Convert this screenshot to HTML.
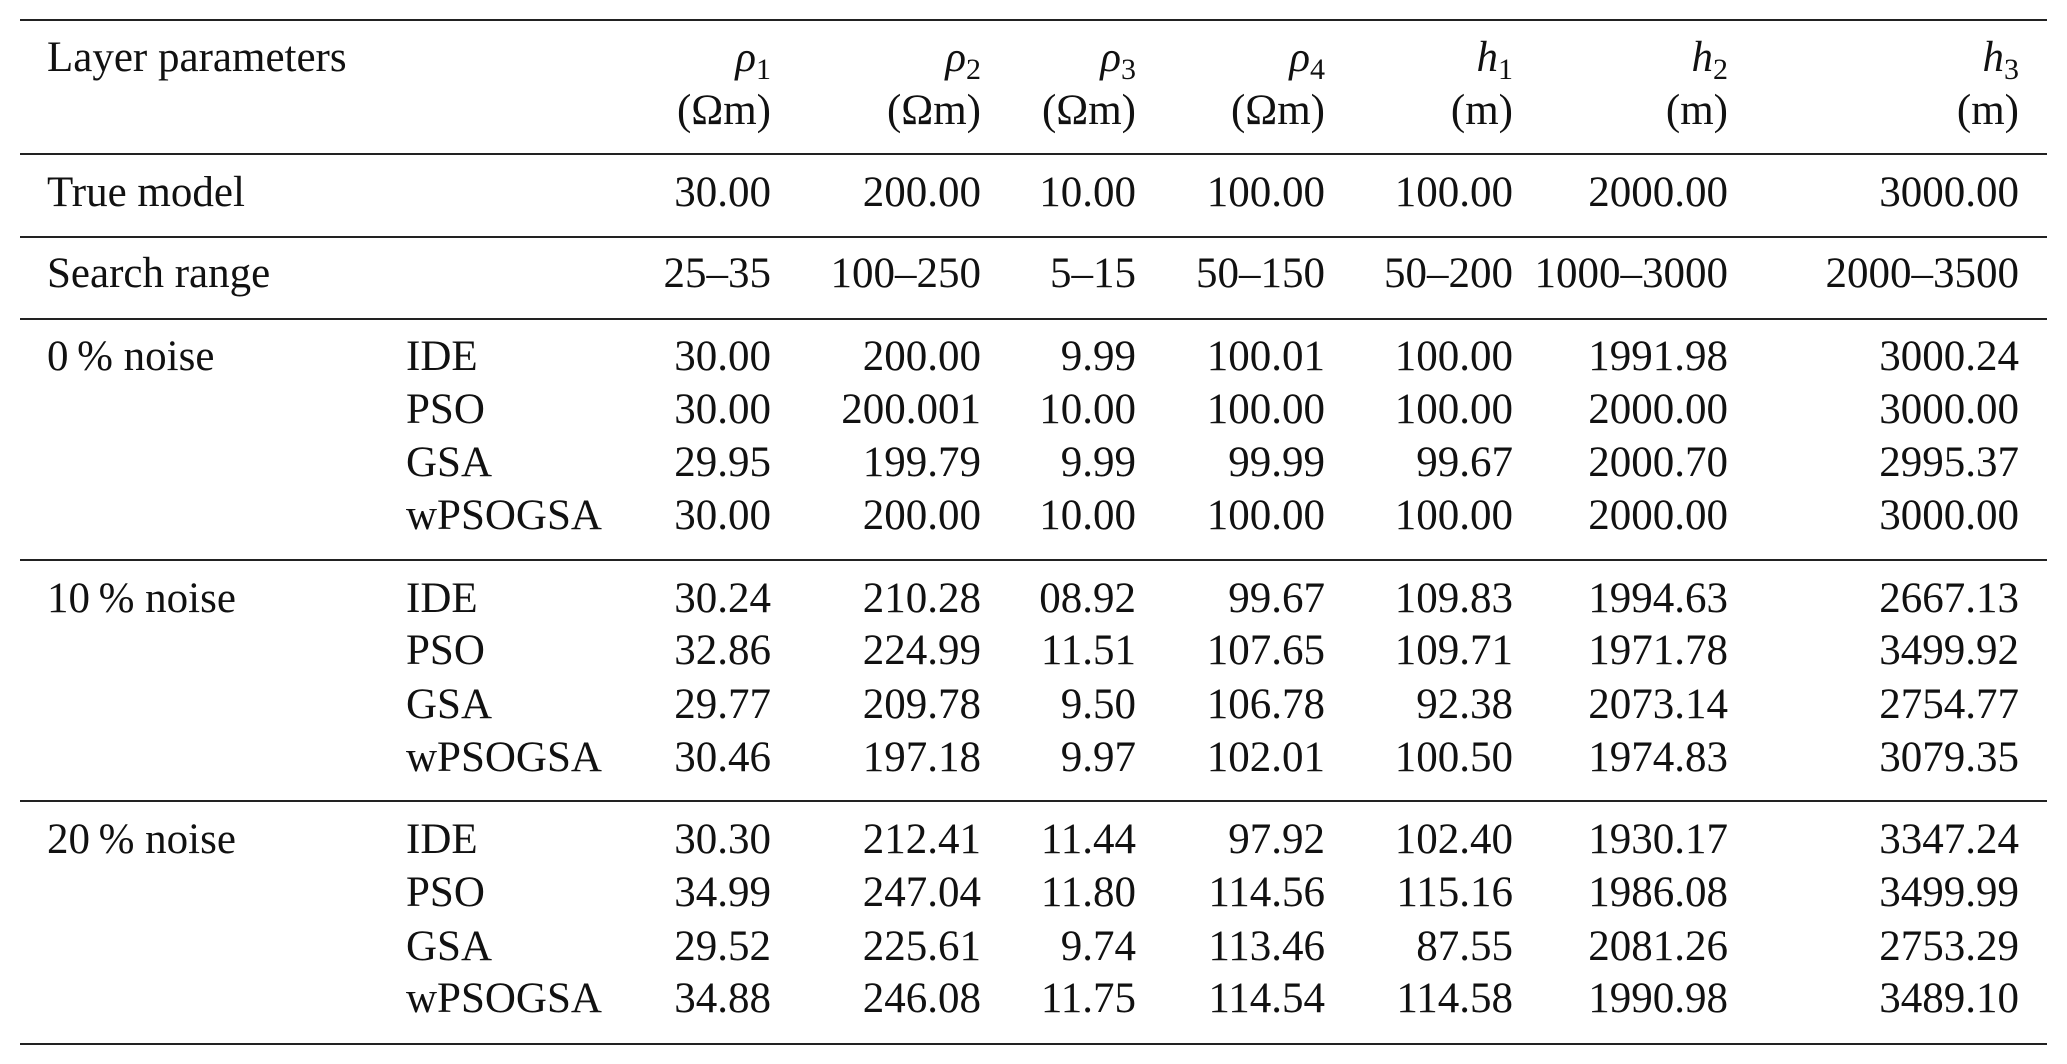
<!DOCTYPE html>
<html><head><meta charset="utf-8"><style>
body{margin:0;background:#fff;width:2067px;height:1064px;position:relative;overflow:hidden;font-family:"Liberation Serif",serif;font-size:43px;color:#111}
.l{position:absolute;left:20px;width:2027px;height:2px;background:#222}
.t{position:absolute;line-height:43px;white-space:nowrap}
.r{position:absolute;line-height:43px;white-space:nowrap;text-align:right}
sub{font-size:30px;vertical-align:-8px;line-height:0}
i{font-style:italic}
</style></head><body>
<div class="l" style="top:19px"></div>
<div class="l" style="top:153px"></div>
<div class="l" style="top:236px"></div>
<div class="l" style="top:318px"></div>
<div class="l" style="top:559px"></div>
<div class="l" style="top:800px"></div>
<div class="l" style="top:1043px"></div>
<div id="c"></div>
<script>
var rightX=[771,981,1136,1325,1513,1728,2019];
var rows=[
[59,"Layer parameters","",["<i>ρ</i><sub>1</sub>","<i>ρ</i><sub>2</sub>","<i>ρ</i><sub>3</sub>","<i>ρ</i><sub>4</sub>","<i>h</i><sub>1</sub>","<i>h</i><sub>2</sub>","<i>h</i><sub>3</sub>"]],
[112,"","",["(Ωm)","(Ωm)","(Ωm)","(Ωm)","(m)","(m)","(m)"]],
[194,"True model","",["30.00","200.00","10.00","100.00","100.00","2000.00","3000.00"]],
[275,"Search range","",["25–35","100–250","5–15","50–150","50–200","1000–3000","2000–3500"]],
[358,"0&#8201;% noise","IDE",["30.00","200.00","9.99","100.01","100.00","1991.98","3000.24"]],
[411,"","PSO",["30.00","200.001","10.00","100.00","100.00","2000.00","3000.00"]],
[464,"","GSA",["29.95","199.79","9.99","99.99","99.67","2000.70","2995.37"]],
[517,"","wPSOGSA",["30.00","200.00","10.00","100.00","100.00","2000.00","3000.00"]],
[600,"10&#8201;% noise","IDE",["30.24","210.28","08.92","99.67","109.83","1994.63","2667.13"]],
[652,"","PSO",["32.86","224.99","11.51","107.65","109.71","1971.78","3499.92"]],
[706,"","GSA",["29.77","209.78","9.50","106.78","92.38","2073.14","2754.77"]],
[759,"","wPSOGSA",["30.46","197.18","9.97","102.01","100.50","1974.83","3079.35"]],
[841,"20&#8201;% noise","IDE",["30.30","212.41","11.44","97.92","102.40","1930.17","3347.24"]],
[894,"","PSO",["34.99","247.04","11.80","114.56","115.16","1986.08","3499.99"]],
[948,"","GSA",["29.52","225.61","9.74","113.46","87.55","2081.26","2753.29"]],
[1000,"","wPSOGSA",["34.88","246.08","11.75","114.54","114.58","1990.98","3489.10"]]
];
var h="";
rows.forEach(function(r){var top=r[0]-23;
if(r[1])h+='<div class="t" style="left:47px;top:'+top+'px">'+r[1]+'</div>';
if(r[2])h+='<div class="t" style="left:406px;top:'+top+'px">'+r[2]+'</div>';
r[3].forEach(function(v,i){h+='<div class="r" style="right:'+(2067-rightX[i])+'px;top:'+top+'px">'+v+'</div>';});
});
document.getElementById('c').innerHTML=h;
</script>
</body></html>
